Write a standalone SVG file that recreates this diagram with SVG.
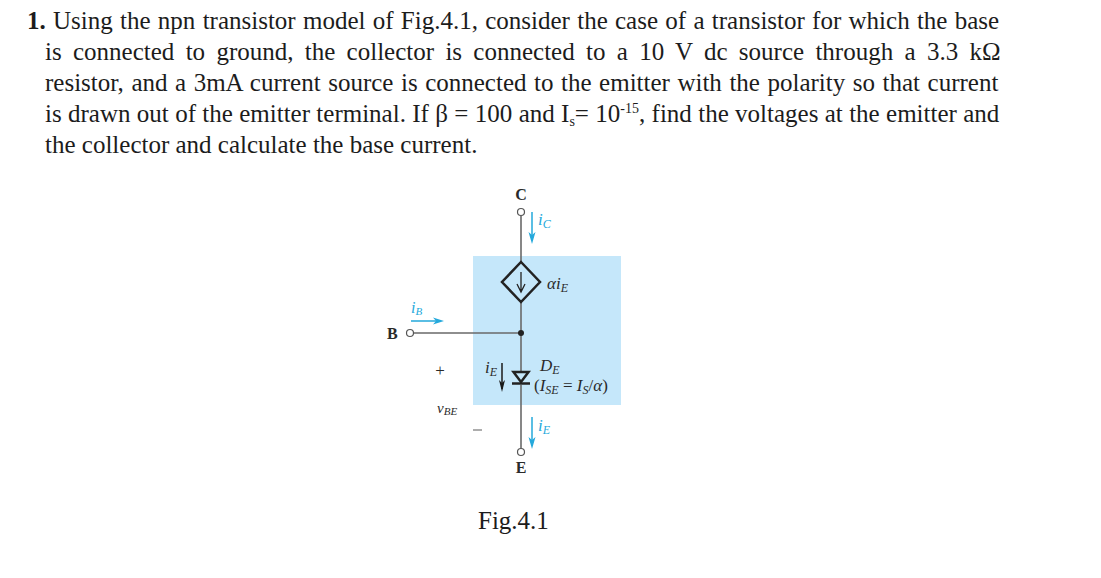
<svg xmlns="http://www.w3.org/2000/svg" width="1101" height="578" viewBox="0 0 1101 578">
<style>
.t{font:25px "Liberation Serif","Times New Roman",serif;fill:#1c1c1c}
.s{font-family:"Liberation Serif","Times New Roman",serif;fill:#2a2a2a}
.i{font-style:italic}
.c{fill:#25a9dc}
.w{stroke:#6a6a6a;stroke-width:1.6;fill:none}
.ca{stroke:#25a9dc;stroke-width:1.5;fill:none}
.k{stroke:#1a1a1a;stroke-width:1.5;fill:none}
.o{fill:#fff;stroke:#555;stroke-width:1.2}
</style>
<rect width="1101" height="578" fill="#fff"/>
<g id="problem">
<text class="t" x="27" y="29" style="word-spacing:1.03px"><tspan font-weight="bold">1.</tspan> Using the npn transistor model of Fig.4.1, consider the case of a transistor for which the base</text>
<text class="t" x="45" y="60" style="word-spacing:5.06px">is connected to ground, the collector is connected to a 10 V dc source through a 3.3 kΩ</text>
<text class="t" x="45" y="91" style="word-spacing:1.29px">resistor, and a 3mA current source is connected to the emitter with the polarity so that current</text>
<text class="t" x="45" y="122" style="word-spacing:0.1px">is drawn out of the emitter terminal. If β = 100 and I<tspan font-size="14" dy="4">s</tspan><tspan dy="-4">= 10</tspan><tspan font-size="14" dy="-9">-15</tspan><tspan dy="9">, find the voltages at the emitter and</tspan></text>
<text class="t" x="45" y="153">the collector and calculate the base current.</text>
</g>
<rect id="model-area" x="473" y="256" width="148" height="149" fill="#c5e7fa"/>
<g id="connectors">
<path class="w" d="M521 216V262M521 302V375M521 385V448M414 333H521"/>
<path class="ca" d="M532 212V238M411 321H438M532 417V443"/>
<path class="c" d="M532 244L528.500 232L532 235L535.500 232ZM444 321L433 317.500L436 321L433 324.500ZM532 449L528.500 437L532 440L535.500 437Z"/>
<path class="k" d="M502 363V389"/>
<path d="M502 392L499 380L502 383L505 380Z" fill="#1a1a1a"/>
</g>
<g id="node-c"><circle class="o" cx="521" cy="212" r="3.500"/><text class="s" x="521" y="200" font-size="16" font-weight="bold" text-anchor="middle">C</text></g>
<g id="node-b"><circle class="o" cx="410" cy="333" r="3.500"/><text class="s" x="387" y="339" font-size="16" font-weight="bold">B</text></g>
<g id="node-e"><circle class="o" cx="521" cy="452" r="3.500"/><text class="s" x="521" y="473" font-size="16" font-weight="bold" text-anchor="middle">E</text></g>
<g id="junction"><circle cx="521" cy="333" r="3" fill="#222"/></g>
<g id="source">
<path d="M521 262L540 282L521 302L502 282Z" fill="#c5e7fa" stroke="#222" stroke-width="2.500"/>
<path d="M521 272V292M517 284L521 292L525 284" fill="none" stroke="#222" stroke-width="1.300"/>
<text class="s i" x="547" y="289" font-size="17">αi<tspan font-size="12" dy="3">E</tspan></text>
</g>
<g id="diode">
<path d="M513.500 372H528.500L521 382Z" fill="#c5e7fa" stroke="#222" stroke-width="2.500"/>
<path d="M512 383.500H530" stroke="#222" stroke-width="2.500"/>
<text class="s i" x="540" y="371" font-size="17">D<tspan font-size="12" dy="3">E</tspan></text>
<text class="s" x="534" y="391" font-size="17">(<tspan class="i">I<tspan font-size="12" dy="3">SE</tspan></tspan><tspan dy="-3"> = </tspan><tspan class="i">I<tspan font-size="12" dy="3">S</tspan></tspan><tspan dy="-3">/</tspan><tspan class="i">α</tspan>)</text>
</g>
<g id="labels">
<text class="s i c" x="538" y="225" font-size="17">i<tspan font-size="12" dy="3">C</tspan></text>
<text class="s i c" x="411" y="313" font-size="16">i<tspan font-size="11" dy="2">B</tspan></text>
<text class="s i c" x="538" y="431" font-size="17">i<tspan font-size="12" dy="3">E</tspan></text>
<text class="s i" x="485" y="373" font-size="17">i<tspan font-size="12" dy="3">E</tspan></text>
<text class="s" x="440" y="376" font-size="17" text-anchor="middle" fill="#555">+</text>
<text class="s i" x="437" y="413" font-size="15">v<tspan font-size="11" dy="2">BE</tspan></text>
<path d="M473 430H482" stroke="#777" stroke-width="1.200"/>
</g>
<text id="caption" class="t" x="478" y="529">Fig.4.1</text>
</svg>
